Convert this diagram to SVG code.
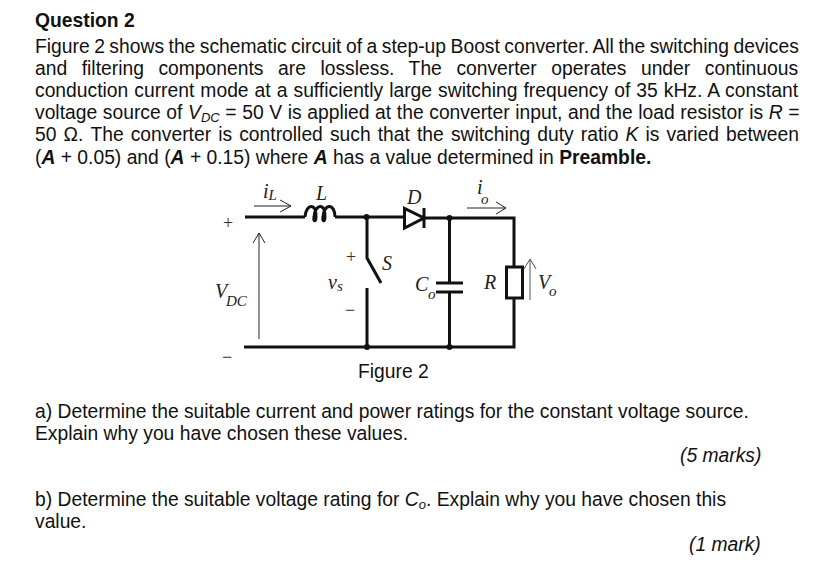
<svg xmlns="http://www.w3.org/2000/svg" width="815" height="567" viewBox="0 0 815 567">
<style>
.t{font-family:"Liberation Sans",Arial,sans-serif;font-size:19.3px;fill:#111}
.b{font-weight:bold}.i{font-style:italic}
.s{font-size:13px}
.m{font-family:"Liberation Serif","Times New Roman",serif;font-style:italic;fill:#222;font-size:20px}
.ms{font-size:15px}
.p{font-family:"Liberation Serif","Times New Roman",serif;font-size:18px;fill:#333}
.w{fill:none;stroke:#111;stroke-width:3}
.a{fill:none;stroke:#222;stroke-width:1}
</style>
<rect width="815" height="567" fill="#fff"/>
<g id="question">
<text class="t b" x="35" y="27">Question 2</text>
<text class="t" x="35" y="53" word-spacing="-0.86">Figure 2 shows the schematic circuit of a step-up Boost converter. All the switching devices</text>
<text class="t" x="35" y="75" word-spacing="9.2">and filtering components are lossless. The converter operates under continuous</text>
<text class="t" x="35" y="97" word-spacing="0.68">conduction current mode at a sufficiently large switching frequency of 35 kHz. A constant</text>
<text class="t" x="35" y="119" word-spacing="0.27">voltage source of <tspan class="i">V</tspan><tspan class="i s" dy="3">DC</tspan><tspan dy="-3"> = 50 V is applied at the converter input, and the load resistor is </tspan><tspan class="i">R</tspan> =</text>
<text class="t" x="35" y="141" word-spacing="1.74">50 Ω. The converter is controlled such that the switching duty ratio <tspan class="i">K</tspan> is varied between</text>
<text class="t" x="35" y="164">(<tspan class="b i">A</tspan> + 0.05) and (<tspan class="b i">A</tspan> + 0.15) where <tspan class="b i">A</tspan> has a value determined in <tspan class="b">Preamble.</tspan></text>
</g>
<g id="connectors">
<path class="w" d="M245 217H305M335 217H404M424 218H514V266M514 298V347H244M367 217V258L381 283M367 288V347M449.5 218V283M449.5 292V347"/>
<path class="a" d="M254 206H291M280 200L291 206L280 212M259 339V233M253 243L259 233L265 243M467 208H506M496 202L506 208L496 214"/>
<path class="a" style="stroke:#555" d="M530 300V259M524 269L530 259L536 269"/>
</g>
<g id="L"><path class="w" d="M305 217C306 203 317 203 316 217C316 222 313 222 314 217C315 203 326 203 325 217C325 222 322 222 323 217C324 203 335 203 335 217"/></g>
<g id="D"><path class="w" d="M404.500 208.500V228L424 218ZM424 208V228"/></g>
<g id="S"><circle cx="366.500" cy="217" r="3" fill="#111"/><circle cx="367" cy="347" r="3" fill="#111"/></g>
<g id="Co"><path class="w" d="M436 283H463M436 292H463"/><circle cx="449.500" cy="218" r="3" fill="#111"/><circle cx="449.500" cy="347" r="3" fill="#111"/></g>
<g id="R"><rect class="w" x="506.500" y="267" width="16" height="31" fill="#fff"/></g>
<g id="labels">
<text class="m" x="263" y="198">i<tspan class="ms" dy="2">L</tspan></text>
<text class="m" x="316" y="200">L</text>
<text class="m" x="407" y="204">D</text>
<text class="m" x="477" y="194">i</text><text class="m ms" x="481" y="204">o</text>
<text class="p" x="223" y="229">+</text>
<text class="p" x="346" y="263">+</text>
<text class="p" x="345" y="316">−</text>
<text class="p" x="222" y="363">−</text>
<text class="m" x="382" y="270">S</text>
<text class="m" x="328" y="289">v<tspan class="ms" dy="2">s</tspan></text>
<text class="m" x="215" y="298">V</text><text class="m ms" x="226" y="306">DC</text>
<text class="m" x="415" y="291">C</text><text class="m ms" x="428" y="299">o</text>
<text class="m" x="484" y="289">R</text>
<text class="m" x="538" y="289">V</text><text class="m ms" x="549" y="296">o</text>
</g>
<g id="body">
<text class="t" x="358" y="378">Figure 2</text>
<text class="t" x="35" y="418">a) Determine the suitable current and power ratings for the constant voltage source.</text>
<text class="t" x="35" y="440">Explain why you have chosen these values.</text>
<text class="t i" x="680" y="462">(5 marks)</text>
<text class="t" x="35" y="506">b) Determine the suitable voltage rating for <tspan class="i">C</tspan><tspan class="i s" dy="3">o</tspan><tspan dy="-3">. Explain why you have chosen this</tspan></text>
<text class="t" x="35" y="528">value.</text>
<text class="t i" x="689" y="551">(1 mark)</text>
</g>
</svg>
